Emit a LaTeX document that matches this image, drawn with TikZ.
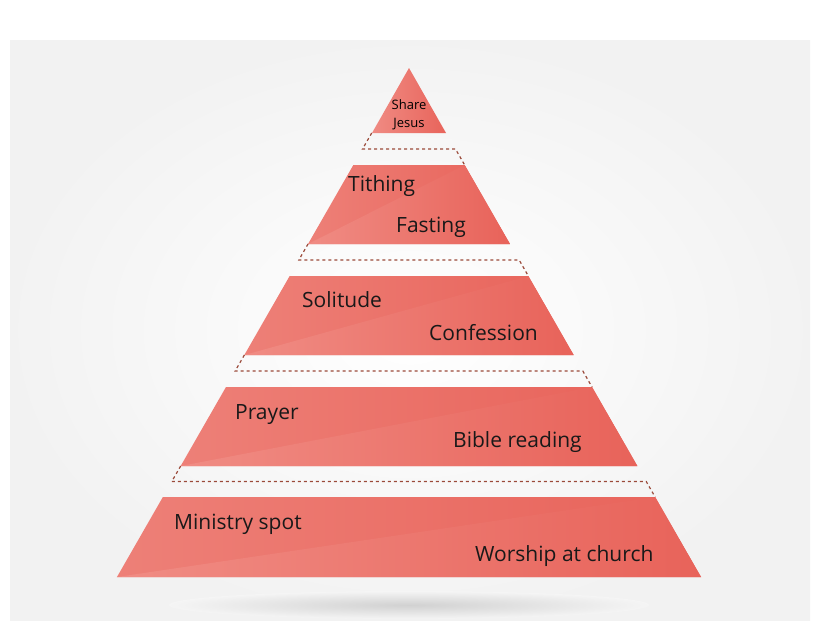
\documentclass[tikz,border=0pt]{standalone}
\usepackage{fontspec}
\setmainfont{Open Sans}
\definecolor{base}{HTML}{E8635A}
\definecolor{lite}{HTML}{F08C84}
\definecolor{dash}{HTML}{9B4A3A}
\begin{document}
\begin{tikzpicture}[x=1pt,y=-1pt,
  lbl/.style={anchor=west,inner sep=0pt,font=\fontsize{21}{22}\selectfont,text=black!90},
  dsh/.style={draw=dash,line width=1.2pt,dash pattern=on 3pt off 3pt}]
\useasboundingbox (0,0) rectangle (820,632);
\fill[white] (0,0) rectangle (820,632);
\shade[inner color=white,outer color=black!5] (10,40) rectangle (810,620);
\shade[inner color=black!18,outer color=white!96!black] (409,605) ellipse (240 and 14);
\foreach \yt/\yb in {165/244,276/355,387/466,497/577}{
  \pgfmathsetmacro{\wT}{(\yt-68)*0.5737}
  \pgfmathsetmacro{\wB}{(\yb-68)*0.5737}
  \begin{scope}
  \clip (409-\wT,\yt) -- (409+\wT,\yt) -- (409+\wB,\yb) -- (409-\wB,\yb) -- cycle;
  \shade[left color=lite!70!base,right color=base] (409-\wB,\yt) rectangle (409+\wB,\yb);
  \shade[left color=lite,right color=base] (409-\wB,\yb) -- (409+\wT,\yt) -- (409+\wB,\yt) -- (409+\wB,\yb) -- cycle;
  \end{scope}
}
\begin{scope}
\clip (409,68) -- (446,133) -- (372,133) -- cycle;
\shade[left color=lite,right color=base] (370,68) rectangle (448,133);
\end{scope}
\foreach \ya/\yc in {133/165,244/276,355/387,466/497}{
  \pgfmathsetmacro{\wA}{(\ya-68)*0.5737}
  \pgfmathsetmacro{\wC}{(\yc-68)*0.5737}
  \pgfmathsetmacro{\yM}{(\ya+\yc)/2}
  \pgfmathsetmacro{\wM}{(\yM-68)*0.5737}
  \draw[dsh] (409-\wA,\ya) -- (409-\wM,\yM) -- (409+\wM,\yM) -- (409+\wC,\yc);
}
\node[inner sep=0pt,align=center,font=\fontsize{13}{18}\selectfont] (t1) at (409,115) {Share\\Jesus};
\node[lbl] (a1) at (348,186) {Tithing};
\node[lbl] (a2) at (396,227) {Fasting};
\node[lbl] (b1) at (302,300) {Solitude};
\node[lbl] (b2) at (429,333) {Confession};
\node[lbl] (c1) at (235,415) {Prayer};
\node[lbl] (c2) at (453,442) {Bible reading};
\node[lbl] (d1) at (174,524) {Ministry spot};
\node[lbl] (d2) at (475,556) {Worship at church};
\end{tikzpicture}
\end{document}
